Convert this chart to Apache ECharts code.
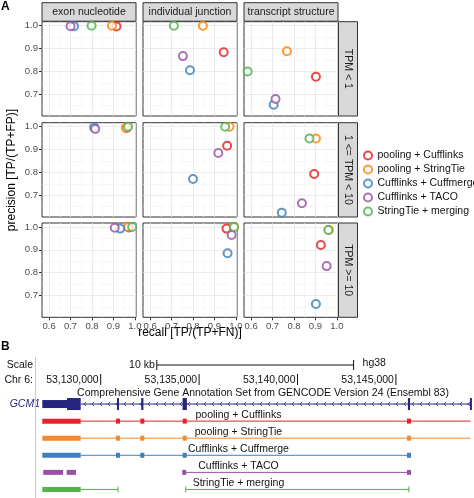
<!DOCTYPE html>
<html><head><meta charset="utf-8">
<script src="https://cdn.jsdelivr.net/npm/echarts@6/dist/echarts.min.js"></script>
<style>html,body{margin:0;padding:0;background:#fff}#c{width:474px;height:498px}</style>
</head><body><div id="c"></div>
<script>
// Panel A data: each array = 9 panels [recall, precision], order row-major (TPM<1, 1<=TPM<10, TPM>=10) x (exon, junction, transcript)
const methods = ['pooling + Cufflinks','pooling + StringTie','Cufflinks + Cuffmerge','Cufflinks + TACO','StringTie + merging'];
const colors = ['#e41a1c','#ff7f00','#377eb8','#984ea3','#4daf4a'];
const poolingCufflinks = [[0.914,0.997],[0.943,0.884],[0.902,0.777],[0.962,0.995],[0.959,0.917],[0.894,0.793],[0.972,0.998],[0.956,0.993],[0.925,0.921]];
const poolingStringTie = [[0.893,1.0],[0.846,1.0],[0.767,0.888],[0.958,0.995],[0.970,1.0],[0.902,0.948],[0.967,1.0],[0.991,1.0],[0.962,0.987]];
const cufflinksCuffmerge = [[0.716,0.998],[0.786,0.805],[0.705,0.654],[0.810,0.997],[0.800,0.771],[0.743,0.624],[0.931,0.993],[0.961,0.885],[0.902,0.663]];
const cufflinksTACO = [[0.700,0.998],[0.753,0.867],[0.714,0.679],[0.815,0.990],[0.918,0.885],[0.837,0.665],[0.906,0.997],[0.980,0.965],[0.952,0.829]];
const stringTieMerging = [[0.798,1.0],[0.711,1.0],[0.584,0.800],[0.968,1.0],[0.950,1.0],[0.872,0.948],[0.987,1.0],[0.991,1.0],[0.960,0.987]];
const seriesValues = [poolingCufflinks,poolingStringTie,cufflinksCuffmerge,cufflinksTACO,stringTieMerging];
const colHeaders = ['exon nucleotide','individual junction','transcript structure'];
const rowStrips = ['TPM < 1','1 <= TPM < 10','TPM >= 10'];
const xTicks = [0.6,0.7,0.8,0.9,1.0];
const yTicks = [0.7,0.8,0.9,1.0];

// Panel B data: [start, end, track, kind]
const trackNames = ['GCM1','pooling + Cufflinks','pooling + StringTie','Cufflinks + Cuffmerge','Cufflinks + TACO','StringTie + merging'];
const trackColors = ['#25257f','#e8202a','#f28a2e','#3d7fc0','#9b50a8','#53b34a'];
const gcm1 = [[53128984,53148800,0,'intron'],[53127033,53128288,0,'utr'],[53128288,53128984,0,'exon'],[53130830,53130930,0,'exon'],[53132060,53132170,0,'exon'],[53134160,53134380,0,'exon'],[53145610,53145720,0,'exon'],[53148760,53148800,0,'exon']];
const pCuff = [[53128984,53148800,1,'line'],[53127033,53128984,1,'thick'],[53130820,53130940,1,'dot'],[53132060,53132170,1,'dot'],[53134160,53134380,1,'dot'],[53145610,53145720,1,'dot']];
const pStr = [[53128984,53148800,2,'line'],[53127033,53128984,2,'thick'],[53130820,53130940,2,'dot'],[53132060,53132170,2,'dot'],[53134160,53134380,2,'dot'],[53145610,53145720,2,'dot']];
const cCuffm = [[53128984,53145700,3,'line'],[53127033,53128984,3,'thick'],[53130820,53130940,3,'dot'],[53132060,53132170,3,'dot'],[53134160,53134380,3,'dot'],[53145610,53145720,3,'dot']];
const cTaco = [[53127080,53128090,4,'thick'],[53128272,53128745,4,'thick'],[53134250,53145700,4,'line'],[53134160,53134330,4,'dot'],[53145610,53145720,4,'dot']];
const stMerge = [[53128984,53130900,5,'line'],[53127033,53128984,5,'thick'],[53130880,53130900,5,'tick'],[53134333,53145680,5,'line'],[53134320,53134340,5,'tick'],[53145660,53145680,5,'tick']];
const trackData = [gcm1,pCuff,pStr,cCuffm,cTaco,stMerge];
const chrTicks = [53130000,53135000,53140000,53145000];

const chart = echarts.init(document.getElementById('c'));
const colL=[42,143,244], rowT=[21.7,122.7,223], W=94, H=94.3;
const grid=[],xAxis=[],yAxis=[],series=[],graphic=[];
const FONT='Liberation Sans, Arial, sans-serif';
for(let r=0;r<3;r++)for(let c=0;c<3;c++){
  const g=r*3+c;
  grid.push({left:colL[c],top:rowT[r],width:W,height:H,show:true,borderColor:'#333',borderWidth:1,backgroundColor:'#fff'});
  xAxis.push({gridIndex:g,type:'value',min:0.567,max:1.005,
    axisLine:{show:false},axisTick:{show:r===2,length:3,lineStyle:{color:'#333'},customValues:xTicks},
    axisLabel:{show:r===2,customValues:xTicks,formatter:v=>v.toFixed(1),color:'#4d4d4d',fontSize:9.5,margin:4,fontFamily:FONT},
    splitLine:{show:true,lineStyle:{color:'#e6e6e6',width:0.8}}});
  yAxis.push({gridIndex:g,type:'value',min:0.605,max:1.0175,
    axisLine:{show:false},axisTick:{show:c===0,length:3,lineStyle:{color:'#333'},customValues:yTicks},
    axisLabel:{show:c===0,customValues:yTicks,formatter:v=>v.toFixed(1),color:'#4d4d4d',fontSize:9.5,margin:4,fontFamily:FONT},
    splitLine:{show:true,lineStyle:{color:'#e6e6e6',width:0.8}}});
  methods.forEach((m,i)=>series.push({type:'scatter',name:m,xAxisIndex:g,yAxisIndex:g,symbol:'emptyCircle',symbolSize:8,
    itemStyle:{color:colors[i],borderColor:colors[i],borderWidth:1.6},data:[seriesValues[i][g]],silent:true}));
}
// minor grid lines through secondary axes
for(let r=0;r<3;r++)for(let c=0;c<3;c++){
  const g=r*3+c;
  xAxis.push({gridIndex:g,type:'value',min:0.567,max:1.005,axisLine:{show:false},axisLabel:{show:false},
    splitLine:{show:true,lineStyle:{color:'#f2f2f2',width:0.6}},axisTick:{show:false,customValues:[0.55,0.65,0.75,0.85,0.95]}});
  yAxis.push({gridIndex:g,type:'value',min:0.605,max:1.0175,axisLine:{show:false},axisLabel:{show:false},
    splitLine:{show:true,lineStyle:{color:'#f2f2f2',width:0.6}},axisTick:{show:false,customValues:[0.65,0.75,0.85,0.95]}});
}
// Panel B grid
const gB=18;
grid.push({left:42.3,right:3.3,top:395.5,height:108});
xAxis.push({gridIndex:9,type:'value',min:53127033,max:53148800,show:false});
yAxis.push({gridIndex:9,type:'value',min:-0.5,max:5.5,inverse:true,show:false});
const allTrack=[].concat(...trackData);
series.push({type:'custom',xAxisIndex:gB,yAxisIndex:gB,data:allTrack,silent:true,z:5,
  renderItem:(p,api)=>{
    const s=api.value(0),e=api.value(1),t=api.value(2),k=allTrack[p.dataIndex][3];
    const a=api.coord([s,t]),b=api.coord([e,t]);const col=trackColors[t];
    const rect=h=>({type:'rect',shape:{x:a[0],y:a[1]-h/2,width:Math.max(b[0]-a[0],2),height:h},style:{fill:col}});
    if(k==='line') return {type:'line',shape:{x1:a[0],y1:a[1],x2:b[0],y2:b[1]},style:{stroke:col,lineWidth:1}};
    if(k==='thick') return rect(5);
    if(k==='dot') return {type:'rect',shape:{x:(a[0]+b[0])/2-2,y:a[1]-2.5,width:4,height:5},style:{fill:col}};
    if(k==='tick') return {type:'line',shape:{x1:a[0],y1:a[1]-3,x2:a[0],y2:a[1]+3},style:{stroke:col,lineWidth:1}};
    if(k==='utr') return rect(8);
    if(k==='exon') return rect(12);
    if(k==='intron'){const ch=[{type:'line',shape:{x1:a[0],y1:a[1],x2:b[0],y2:b[1]},style:{stroke:col,lineWidth:1}}];
      for(let x=a[0]+4;x<b[0]-2;x+=8)ch.push({type:'polyline',shape:{points:[[x+1.5,a[1]-2],[x-1,a[1]],[x+1.5,a[1]+2]]},style:{stroke:col,fill:'none',lineWidth:0.7}});
      return {type:'group',children:ch};}
  }});
// track labels
series.push({type:'custom',xAxisIndex:gB,yAxisIndex:gB,silent:true,data:trackNames.slice(1).map((n,i)=>[53137000,i+1]),
  renderItem:(p,api)=>{const a=api.coord([api.value(0),api.value(1)]);
    return {type:'text',x:a[0],y:a[1]-6.5,style:{text:trackNames[p.dataIndex+1],fill:'#111',font:'10.5px '+FONT,align:'center',verticalAlign:'middle'}};}});
// chr ticks
series.push({type:'custom',xAxisIndex:gB,yAxisIndex:gB,silent:true,data:chrTicks.map(v=>[v,-0.5]),
  renderItem:(p,api)=>{const a=api.coord([api.value(0),0]);const y=380;
    return {type:'group',children:[{type:'line',shape:{x1:a[0],y1:y-6,x2:a[0],y2:y+5},style:{stroke:'#111',lineWidth:1}},
      {type:'text',x:a[0]-2,y:y,style:{text:api.value(0).toLocaleString('en-US'),fill:'#111',font:'10.5px '+FONT,align:'right',verticalAlign:'middle'}}]};}});
// scale bar 10kb
series.push({type:'custom',xAxisIndex:gB,yAxisIndex:gB,silent:true,data:[[53132850,53142850]],
  renderItem:(p,api)=>{const a=api.coord([api.value(0),0]),b=api.coord([api.value(1),0]);const y=365;
    return {type:'group',children:[{type:'line',shape:{x1:a[0],y1:y,x2:b[0],y2:y},style:{stroke:'#111',lineWidth:1}},
      {type:'line',shape:{x1:a[0],y1:y-5,x2:a[0],y2:y+5},style:{stroke:'#111'}},{type:'line',shape:{x1:b[0],y1:y-5,x2:b[0],y2:y+5},style:{stroke:'#111'}},
      {type:'text',x:a[0]-2,y:y,style:{text:'10 kb',fill:'#111',font:'10.5px '+FONT,align:'right',verticalAlign:'middle'}},
      {type:'text',x:b[0]+9,y:y-2,style:{text:'hg38',fill:'#111',font:'10.5px '+FONT,align:'left',verticalAlign:'middle'}}]};}});

colHeaders.forEach((h,c)=>{graphic.push({type:'rect',shape:{x:colL[c],y:2.7,width:W,height:18.5},style:{fill:'#d9d9d9',stroke:'#333',lineWidth:1}});
  graphic.push({type:'text',x:colL[c]+W/2,y:12,style:{text:h,fill:'#1a1a1a',font:'10.5px '+FONT,align:'center',verticalAlign:'middle'}});});
rowStrips.forEach((h,r)=>{graphic.push({type:'rect',shape:{x:338.5,y:rowT[r],width:19,height:H},style:{fill:'#d9d9d9',stroke:'#333',lineWidth:1}});
  graphic.push({type:'text',x:348,y:rowT[r]+H/2,rotation:-Math.PI/2,style:{text:h,fill:'#1a1a1a',font:'10.5px '+FONT,align:'center',verticalAlign:'middle'}});});
graphic.push({type:'text',x:1,y:1,style:{text:'A',font:'bold 12px '+FONT,fill:'#000'}});
graphic.push({type:'text',x:1,y:341,style:{text:'B',font:'bold 12px '+FONT,fill:'#000'}});
graphic.push({type:'text',x:12,y:170,rotation:Math.PI/2,style:{text:'precision [TP/(TP+FP)]',font:'12px '+FONT,fill:'#000',align:'center',verticalAlign:'middle'}});
graphic.push({type:'text',x:190,y:333,style:{text:'recall [TP/(TP+FN)]',font:'12px '+FONT,fill:'#000',align:'center',verticalAlign:'middle'}});
graphic.push({type:'text',x:33,y:365,style:{text:'Scale',font:'10.5px '+FONT,fill:'#111',align:'right',verticalAlign:'middle'}});
graphic.push({type:'text',x:33,y:380,style:{text:'Chr 6:',font:'10.5px '+FONT,fill:'#111',align:'right',verticalAlign:'middle'}});
graphic.push({type:'text',x:263,y:393,style:{text:'Comprehensive Gene Annotation Set from GENCODE Version 24 (Ensembl 83)',font:'10.5px '+FONT,fill:'#111',align:'center',verticalAlign:'middle'}});
graphic.push({type:'text',x:40,y:404,style:{text:'GCM1',font:'italic 10.5px '+FONT,fill:'#25257f',align:'right',verticalAlign:'middle'}});
graphic.push({type:'line',shape:{x1:35.5,y1:357,x2:35.5,y2:498},style:{stroke:'#f2b8c0',lineWidth:1}});

chart.setOption({animation:false,textStyle:{fontFamily:FONT},grid,xAxis,yAxis,series,graphic,
  legend:{orient:'vertical',left:358,top:145,itemWidth:9,itemHeight:8,itemGap:3,
    data:methods,textStyle:{fontSize:10.5,color:'#111'},selectedMode:false}});
</script></body></html>
